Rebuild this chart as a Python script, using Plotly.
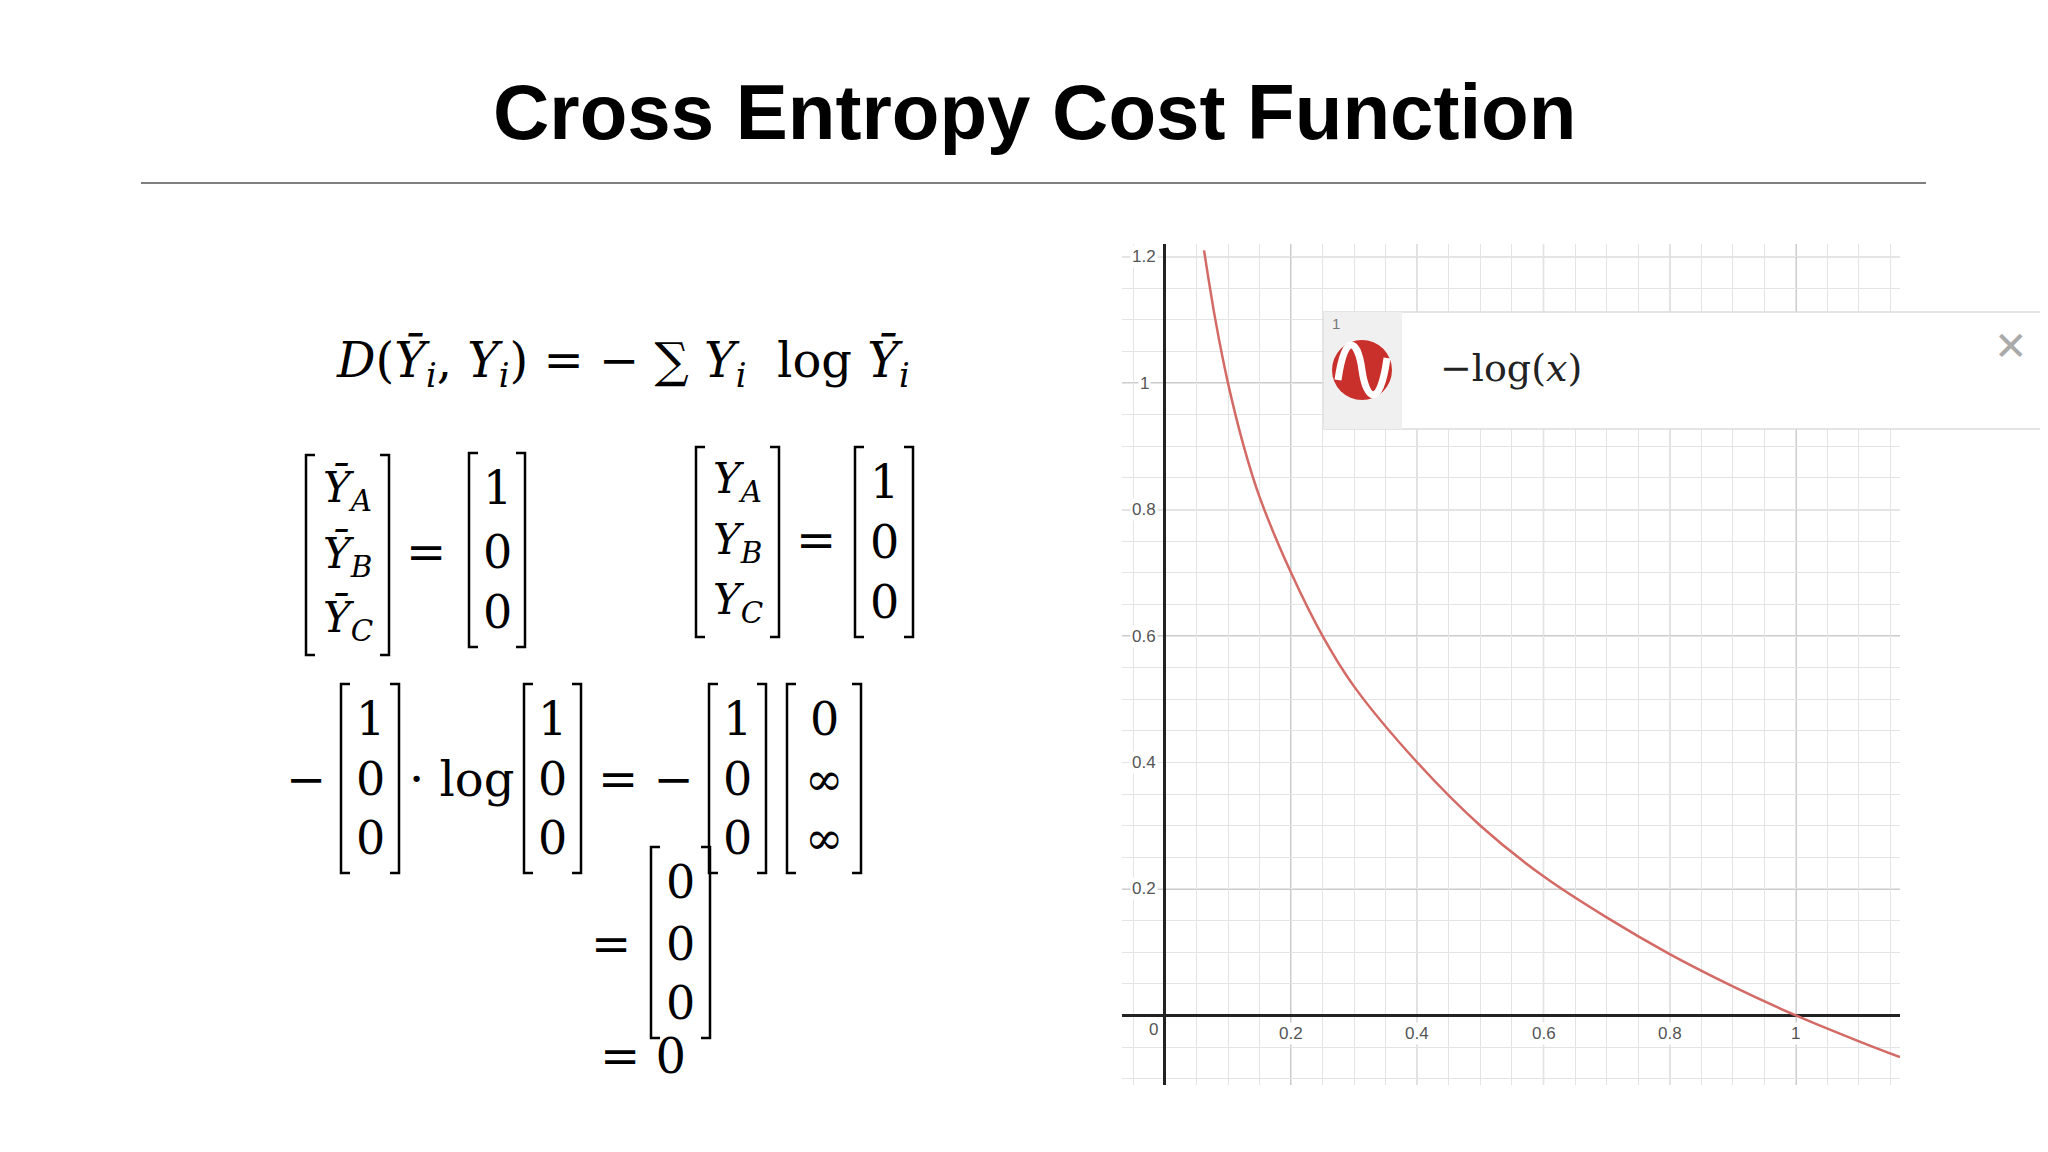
import plotly.graph_objects as go

W, H = 2048, 1152
curve_x = [0.062, 0.08, 0.1, 0.125, 0.15, 0.2, 0.25, 0.3, 0.4, 0.5, 0.6, 0.7, 0.8, 0.9, 1.0, 1.1, 1.165]
curve_y = [1.21, 1.10, 1.0, 0.90, 0.82, 0.70, 0.60, 0.52, 0.40, 0.30, 0.22, 0.155, 0.097, 0.046, 0.0, -0.041, -0.066]
x_ticks = [0.2, 0.4, 0.6, 0.8, 1]
x_tick_labels = ["0.2", "0.4", "0.6", "0.8", "1"]
y_ticks = [0.2, 0.4, 0.6, 0.8, 1, 1.2]
y_tick_labels = ["0.2", "0.4", "0.6", "0.8", "1", "1.2"]

OFF = 8
def px(x): return (x - OFF) / W
def py(y): return 1 - (y - OFF) / H

fig = go.Figure()
fig.add_trace(go.Scatter(x=curve_x, y=curve_y, mode="lines", line=dict(color="#d46a66", width=2.5, shape="spline"), hoverinfo="skip"))

X0, X1 = -0.068, 1.165
Y0, Y1 = -0.11, 1.22
fig.update_layout(
    width=W, height=H, margin=dict(l=0, r=0, t=0, b=0), paper_bgcolor="white", plot_bgcolor="white", showlegend=False,
    xaxis=dict(domain=[px(1122), px(1900)], range=[X0, X1], tickvals=[i * 0.05 for i in range(-1, 24)],
               showticklabels=False, ticks="", gridcolor="#e4e4e4", gridwidth=1,
               zeroline=True, zerolinecolor="#222", zerolinewidth=2.5),
    yaxis=dict(domain=[py(1085), py(244)], range=[Y0, Y1], tickvals=[i * 0.05 for i in range(-2, 25)],
               showticklabels=False, ticks="", gridcolor="#e4e4e4", gridwidth=1,
               zeroline=True, zerolinecolor="#222", zerolinewidth=2.5),
)
shapes = []
ann = []
for v in [0.2, 0.4, 0.6, 0.8, 1.0]:
    shapes.append(dict(type="line", xref="x", yref="y", x0=v, x1=v, y0=Y0, y1=Y1, line=dict(color="#9a9a9a", width=1.2), layer="below"))
for v in [0.2, 0.4, 0.6, 0.8, 1.0, 1.2]:
    shapes.append(dict(type="line", xref="x", yref="y", x0=X0, x1=X1, y0=v, y1=v, line=dict(color="#9a9a9a", width=1.2), layer="below"))
for v, t in zip(x_ticks, x_tick_labels):
    ann.append(dict(xref="x", yref="y", x=v, y=-0.028, text=t, showarrow=False, font=dict(family="Arial", size=17, color="#555"), bgcolor="white"))
for v, t in zip(y_ticks, y_tick_labels):
    ann.append(dict(xref="x", yref="y", x=-0.033, y=v, text=t, showarrow=False, font=dict(family="Arial", size=17, color="#555"), bgcolor="white"))
ann.append(dict(xref="x", yref="y", x=-0.018, y=-0.022, text="0", showarrow=False, font=dict(family="Arial", size=17, color="#555"), bgcolor="white"))

def A(x, y, s, family, size, color="black", anchor="center"):
    ann.append(dict(xref="paper", yref="paper", x=px(x), y=py(y), xanchor=anchor, yanchor="middle", text=s,
                    showarrow=False, font=dict(family=family, size=size, color=color)))

A(1034, 112, "<b>Cross Entropy Cost Function</b>", "Liberation Sans", 78)
shapes.append(dict(type="line", xref="paper", yref="paper", x0=px(141), x1=px(1926), y0=py(183), y1=py(183), line=dict(color="#555", width=1.5)))

# desmos expression box
shapes.append(dict(type="rect", xref="paper", yref="paper", x0=px(1324), x1=px(2046), y0=py(312), y1=py(429), fillcolor="white", line=dict(color="#dcdcdc", width=1.5)))
shapes.append(dict(type="rect", xref="paper", yref="paper", x0=px(1324), x1=px(1402), y0=py(312), y1=py(429), fillcolor="#f0f0f0", line=dict(width=0)))
shapes.append(dict(type="circle", xref="paper", yref="paper", x0=px(1332), x1=px(1392), y0=py(340), y1=py(400), fillcolor="#c9302c", line=dict(width=0)))
shapes.append(dict(type="path", xref="paper", yref="paper",
                   path=f"M {px(1338)},{py(380)} C {px(1345)},{py(330)} {px(1358)},{py(340)} {px(1362)},{py(370)} C {px(1366)},{py(400)} {px(1380)},{py(410)} {px(1387)},{py(358)}",
                   line=dict(color="white", width=7)))
A(1336, 323, "1", "Arial", 15, "#777")
A(1438, 368, "−log(<i>x</i>)", "DejaVu Serif", 38, "#222", "left")
A(2011, 346, "✕", "DejaVu Sans", 40, "#aaa")

SER = "DejaVu Serif"
def txt(x, y, s, size=46, anchor="center"):
    A(x, y, s, SER, size, "black", anchor)

def bracket(xl, xr, yt, yb):
    s = 9
    for path in [f"M {px(xl+s)},{py(yt)} L {px(xl)},{py(yt)} L {px(xl)},{py(yb)} L {px(xl+s)},{py(yb)}",
                 f"M {px(xr-s)},{py(yt)} L {px(xr)},{py(yt)} L {px(xr)},{py(yb)} L {px(xr-s)},{py(yb)}"]:
        shapes.append(dict(type="path", xref="paper", yref="paper", path=path, line=dict(color="black", width=2.5)))

def matrix(xl, xr, ys, entries, size=46):
    bracket(xl, xr, ys[0] - 35, ys[-1] + 35)
    for y, e in zip(ys, entries):
        txt((xl + xr) / 2, y, e, size)

txt(334, 363, "<i>D</i>(<i>Ȳ<sub>i</sub></i>, <i>Y<sub>i</sub></i>) = − ∑ <i>Y<sub>i</sub></i>  log <i>Ȳ<sub>i</sub></i>", 48, "left")
matrix(306, 389, [490, 556, 620], ["<i>Ȳ<sub>A</sub></i>", "<i>Ȳ<sub>B</sub></i>", "<i>Ȳ<sub>C</sub></i>"], 42)
txt(426, 552, "=", 48)
matrix(469, 525, [488, 552, 612], ["1", "0", "0"])
matrix(696, 779, [482, 542, 602], ["<i>Y<sub>A</sub></i>", "<i>Y<sub>B</sub></i>", "<i>Y<sub>C</sub></i>"], 42)
txt(816, 540, "=", 48)
matrix(855, 913, [482, 542, 602], ["1", "0", "0"])
r3 = [719, 779, 838]
txt(306, 779, "−", 48)
matrix(341, 399, r3, ["1", "0", "0"])
txt(462, 779, "· log", 48)
matrix(524, 581, r3, ["1", "0", "0"])
txt(646, 779, "= −", 48)
matrix(709, 766, r3, ["1", "0", "0"])
matrix(787, 861, r3, ["0", "∞", "∞"])
txt(611, 944, "=", 48)
matrix(651, 710, [882, 944, 1003], ["0", "0", "0"])
txt(643, 1056, "= 0", 48)

fig.update_layout(shapes=shapes, annotations=ann)
fig.write_html("out.html")
